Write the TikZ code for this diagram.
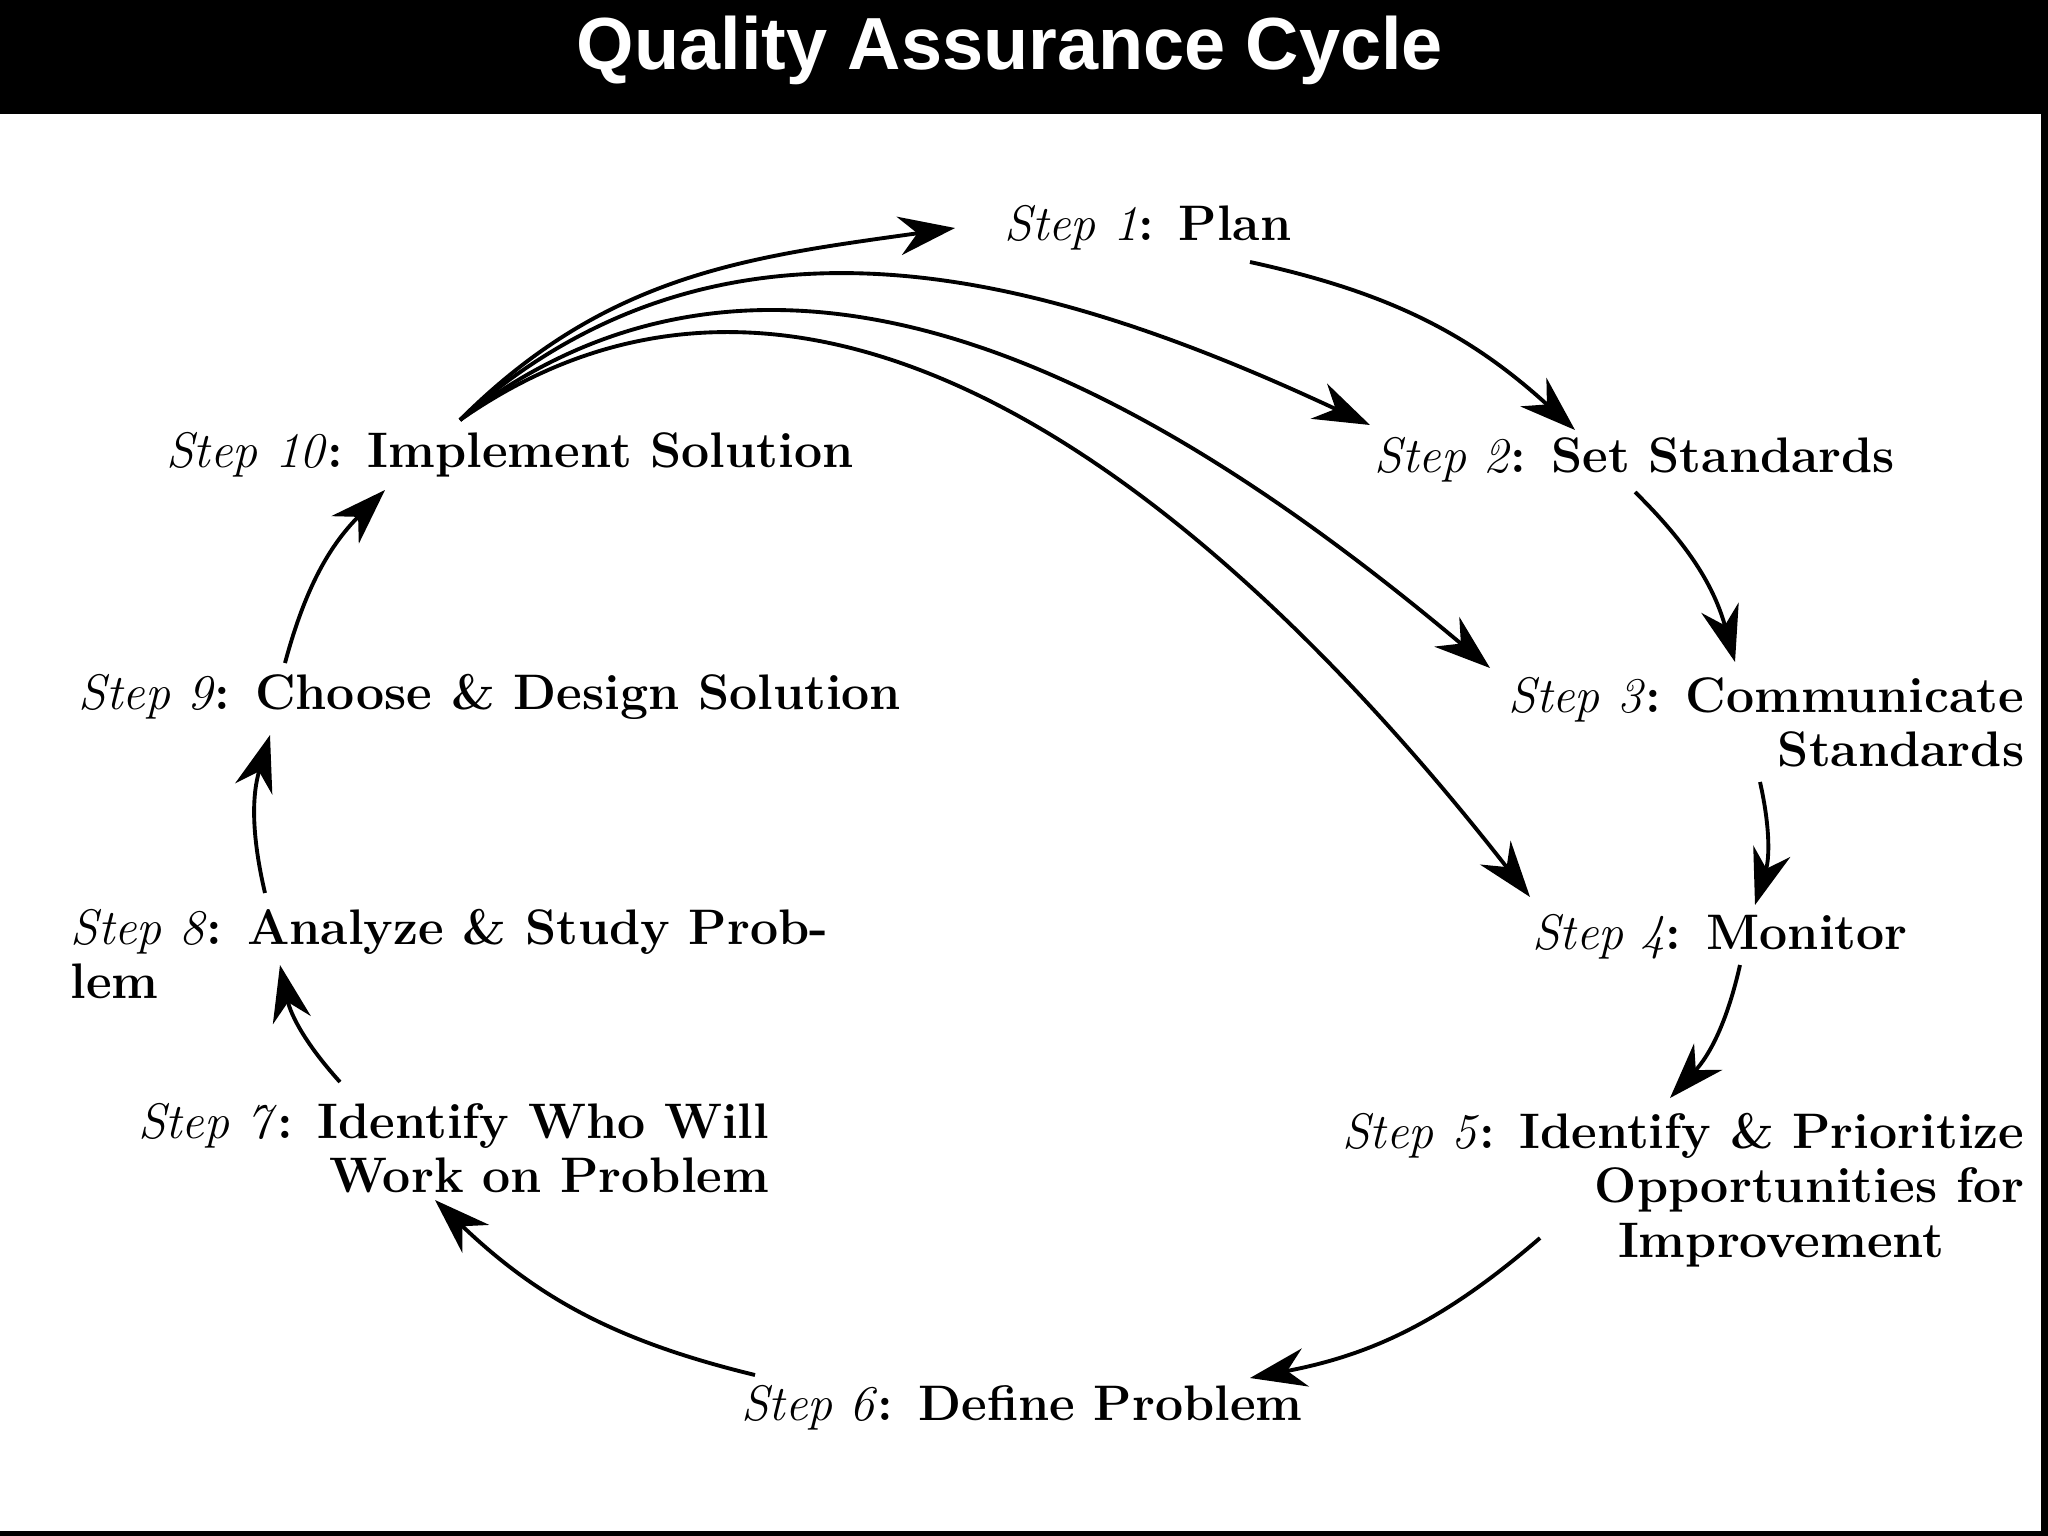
\documentclass[tikz,border=0pt]{standalone}
\usepackage{fontspec}
\newfontfamily\titlefont{Liberation Sans}
\usetikzlibrary{arrows.meta}
\begin{document}
\begin{tikzpicture}[x=0.01cm,y=-0.01cm,
  lbl/.style={font=\fontsize{14.2}{15.5}\selectfont\bfseries, inner sep=0pt},
  arr/.style={-{Stealth[length=16pt,width=11pt]}, line width=1.1pt},
  cyc/.style={arr, bend left=15}]
\useasboundingbox (0,0) rectangle (2048,1536);
\fill[white] (0,0) rectangle (2048,1536);
\fill[black] (0,0) rectangle (2048,110);
\draw[line width=2pt] (0,110) -- (2044,110) -- (2044,1534) -- (0,1534);
\node[text=white, font=\titlefont\bfseries\fontsize{21}{24}\selectfont] (title) at (1010,50) {Quality Assurance Cycle};

\node[lbl] (s1) at (1148,228) {\textit{\mdseries Step 1}: Plan};
\node[lbl] (s2) at (1635,460) {\textit{\mdseries Step 2}: Set Standards};
\node[lbl, align=right, anchor=east] (s3) at (2025,722) {\textit{\mdseries Step 3}: Communicate\\Standards};
\node[lbl] (s4) at (1720,937) {\textit{\mdseries Step 4}: Monitor};
\node[lbl, align=right, anchor=east] (s5) at (2025,1190) {\textit{\mdseries Step 5}: Identify \& Prioritize\\Opportunities for\hspace*{0.35cm}\\Improvement\hspace*{0.8cm}};
\node[lbl] (s6) at (1022,1408) {\textit{\mdseries Step 6}: Define Problem};
\node[lbl, align=right, anchor=east] (s7) at (770,1148) {\textit{\mdseries Step 7}: Identify Who Will\\Work on Problem};
\node[lbl, align=left, anchor=west] (s8) at (70,954) {\textit{\mdseries Step 8}: Analyze \& Study Prob-\\lem};
\node[lbl] (s9) at (490,697) {\textit{\mdseries Step 9}: Choose \& Design Solution};
\node[lbl] (s10) at (510,455) {\textit{\mdseries Step 10}: Implement Solution};

\coordinate (a1) at (1250,262); \coordinate (b2) at (1575,430);
\coordinate (a2) at (1635,492); \coordinate (b3) at (1735,662);
\coordinate (a3) at (1760,782); \coordinate (b4) at (1755,905);
\coordinate (a4) at (1740,965); \coordinate (b5) at (1670,1098);
\coordinate (a5) at (1540,1238); \coordinate (b6) at (1250,1378);
\coordinate (a6) at (755,1375); \coordinate (b7) at (435,1200);
\coordinate (a7) at (340,1082); \coordinate (b8) at (280,965);
\coordinate (a8) at (265,893); \coordinate (b9) at (270,735);
\coordinate (a9) at (285,663); \coordinate (b10) at (385,490);
\coordinate (a10) at (460,420);
\coordinate (c1) at (955,228); \coordinate (c2) at (1370,425);
\coordinate (c3) at (1490,668); \coordinate (c4) at (1530,897);

\draw[cyc] (a1) to (b2);
\draw[cyc] (a2) to (b3);
\draw[cyc] (a3) to (b4);
\draw[cyc] (a4) to (b5);
\draw[cyc] (a5) to (b6);
\draw[cyc] (a6) to (b7);
\draw[cyc] (a7) to (b8);
\draw[cyc] (a8) to (b9);
\draw[cyc] (a9) to (b10);
\draw[arr] (a10) to[out=45,in=188] (c1);
\draw[arr] (a10) to[out=42,in=155] (c2);
\draw[arr] (a10) to[out=38,in=140] (c3);
\draw[arr] (a10) to[out=35,in=128] (c4);
\end{tikzpicture}
\end{document}
